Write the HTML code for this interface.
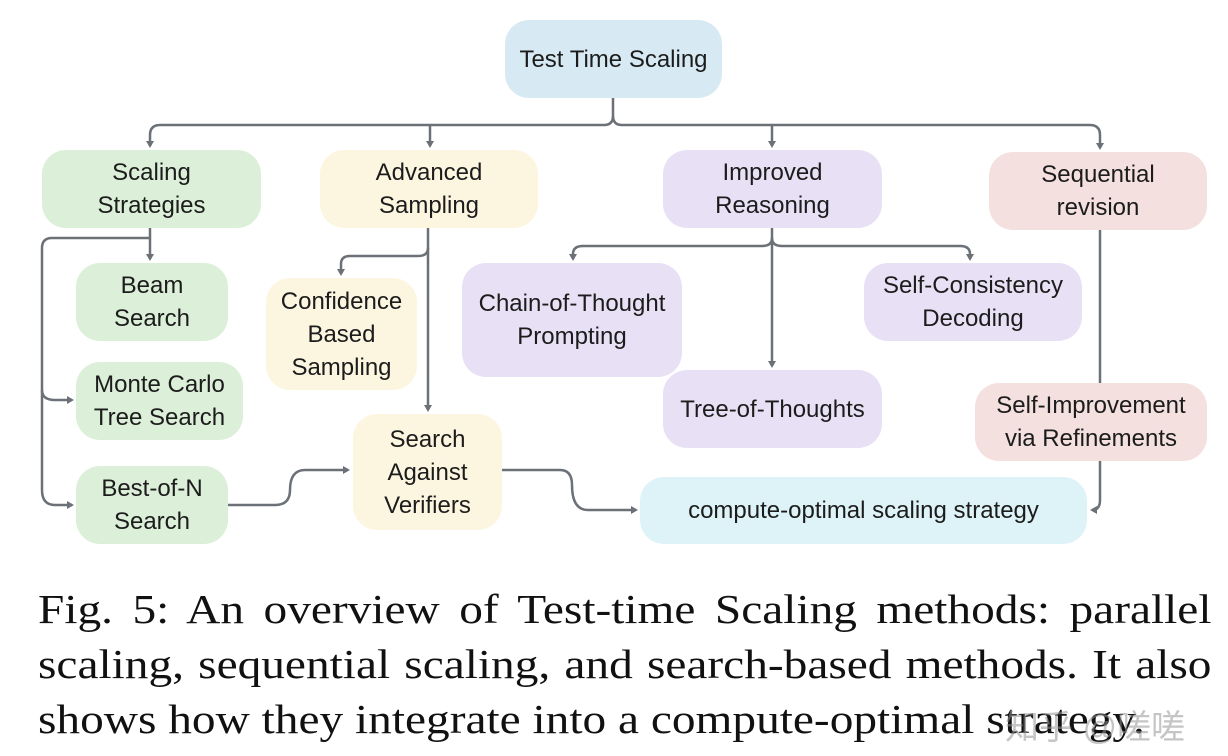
<!DOCTYPE html>
<html><head><meta charset="utf-8"><style>
body{margin:0;width:1228px;height:756px;background:#fff;position:relative;overflow:hidden;font-family:"Liberation Sans",sans-serif}
.b{position:absolute;border-radius:24px;display:flex;align-items:center;justify-content:center;text-align:center;font-size:24px;line-height:33px;color:#1c1c1c}
.g{background:#dcefd8}.y{background:#fcf6e1}.p{background:#e8e1f5}.r{background:#f3e0df}
.cap{position:absolute;left:38px;width:1016px;font-family:"Liberation Serif",serif;font-size:41px;color:#111;text-align:justify;text-align-last:justify;white-space:nowrap;transform:scaleX(1.155);transform-origin:left top}
</style></head><body>
<svg width="1228" height="756" style="position:absolute;left:0;top:0">
<defs><marker id="a" markerWidth="8" markerHeight="8" refX="5" refY="4" orient="auto" markerUnits="userSpaceOnUse"><path d="M0,0 L7,4 L0,8 z" fill="#6b7177"/></marker></defs>
<g fill="none" stroke="#6b7177" stroke-width="2.5">
<path d="M613,98 V116 Q613,125 604,125 H160 Q150,125 150,135 V146" marker-end="url(#a)"/>
<path d="M613,116 Q613,125 622,125 H1090 Q1100,125 1100,135 V148" marker-end="url(#a)"/>
<path d="M430,125 Q430,125 430,135 V146" marker-end="url(#a)"/>
<path d="M772,125 V146" marker-end="url(#a)"/>
<path d="M150,228 V259" marker-end="url(#a)"/>
<path d="M150,238 H52 Q42,238 42,248 V490 Q42,505 55,505 H72" marker-end="url(#a)"/>
<path d="M42,390 Q42,400 55,400 H72" marker-end="url(#a)"/>
<path d="M428,228 V410" marker-end="url(#a)"/>
<path d="M428,248 Q428,256 418,256 H350 Q341,256 341,264 V274" marker-end="url(#a)"/>
<path d="M772,228 V366" marker-end="url(#a)"/>
<path d="M772,238 Q772,246 762,246 H583 Q573,246 573,254 V259" marker-end="url(#a)"/>
<path d="M772,238 Q772,246 782,246 H960 Q970,246 970,254 V259" marker-end="url(#a)"/>
<path d="M1100,230 V383"/>
<path d="M1100,461 V500 Q1100,510 1092,510" marker-end="url(#a)"/>
<path d="M228,505 H275 Q290,505 290,490 Q290,470 305,470 H348" marker-end="url(#a)"/>
<path d="M502,470 H560 Q572,470 572,485 Q572,510 588,510 H636" marker-end="url(#a)"/>
</g></svg>
<div class="b" style="left:505px;top:20px;width:217px;height:78px;background:#d7eaf4">Test Time Scaling</div>
<div class="b g" style="left:42px;top:150px;width:219px;height:78px">Scaling<br>Strategies</div>
<div class="b y" style="left:320px;top:150px;width:218px;height:78px">Advanced<br>Sampling</div>
<div class="b p" style="left:663px;top:150px;width:219px;height:78px">Improved<br>Reasoning</div>
<div class="b r" style="left:989px;top:152px;width:218px;height:78px">Sequential<br>revision</div>
<div class="b g" style="left:76px;top:263px;width:152px;height:78px">Beam<br>Search</div>
<div class="b g" style="left:76px;top:362px;width:167px;height:78px">Monte Carlo<br>Tree Search</div>
<div class="b g" style="left:76px;top:466px;width:152px;height:78px">Best-of-N<br>Search</div>
<div class="b y" style="left:266px;top:278px;width:151px;height:112px">Confidence<br>Based<br>Sampling</div>
<div class="b y" style="left:353px;top:414px;width:149px;height:116px">Search<br>Against<br>Verifiers</div>
<div class="b p" style="left:462px;top:263px;width:220px;height:114px">Chain-of-Thought<br>Prompting</div>
<div class="b p" style="left:864px;top:263px;width:218px;height:78px">Self-Consistency<br>Decoding</div>
<div class="b p" style="left:663px;top:370px;width:219px;height:78px">Tree-of-Thoughts</div>
<div class="b r" style="left:975px;top:383px;width:232px;height:78px">Self-Improvement<br>via Refinements</div>
<div class="b" style="left:640px;top:477px;width:447px;height:67px;background:#ddf3f7">compute-optimal scaling strategy</div>
<div class="cap" style="top:585px">Fig. 5: An overview of Test-time Scaling methods: parallel</div>
<div class="cap" style="top:640px">scaling, sequential scaling, and search-based methods. It also</div>
<div class="cap" style="top:695px;text-align-last:left">shows how they integrate into a compute-optimal strategy.</div>
<div style="position:absolute;left:1005px;top:700px;font-family:'Liberation Sans','Noto Sans CJK SC',sans-serif;font-size:34px;color:rgba(150,150,150,0.55)">知乎 @嗟嗟</div>
</body></html>
